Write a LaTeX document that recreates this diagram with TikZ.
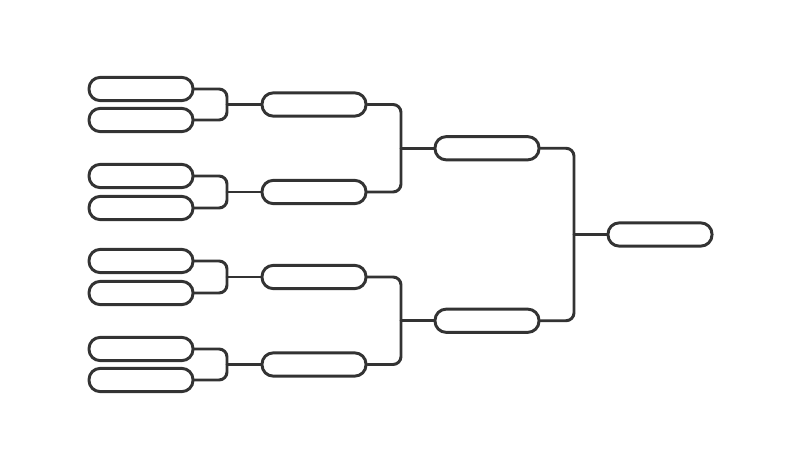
\documentclass[tikz,border=0pt]{standalone}
\usetikzlibrary{calc}
\definecolor{bracket}{HTML}{333333}
\begin{document}
\begin{tikzpicture}[x=0.025cm, y=-0.025cm, line join=round, line cap=round, line width=2.1pt, color=bracket,
    slot/.style={draw, rounded corners=0.28cm, minimum width=2.6cm, minimum height=0.58cm, inner sep=0pt},
    link/.style={rounded corners=0.2cm}]
    \useasboundingbox (0,0) rectangle (800,471);
    % first round
    \foreach \n/\y in {1/89,2/120,3/176,4/208,5/261,6/293,7/349,8/380}
        \node[slot] (a\n) at (141,\y) {};
    % second round
    \foreach \n in {1,...,4} {
        \pgfmathtruncatemacro{\p}{2*\n-1}
        \pgfmathtruncatemacro{\q}{2*\n}
        \node[slot] (b\n) at ($(a\p)!.5!(a\q)+(173,0)$) {};
        \coordinate (jb\n) at ($(b\n)-(87,0)$);
        \draw[link] (a\p.east) -| (jb\n) |- (a\q.east);
        \draw (jb\n) -- (b\n.west);
    }
    % semi-finals
    \foreach \n in {1,2} {
        \pgfmathtruncatemacro{\p}{2*\n-1}
        \pgfmathtruncatemacro{\q}{2*\n}
        \node[slot] (c\n) at ($(b\p)!.5!(b\q)+(173,0)$) {};
        \coordinate (jc\n) at ($(c\n)-(86,0)$);
        \draw[link] (b\p.east) -| (jc\n) |- (b\q.east);
        \draw (jc\n) -- (c\n.west);
    }
    % final
    \node[slot] (d) at ($(c1)!.5!(c2)+(173,0)$) {};
    \coordinate (jd) at ($(d)-(86,0)$);
    \draw[link] (c1.east) -| (jd) |- (c2.east);
    \draw (jd) -- (d.west);
\end{tikzpicture}
\end{document}
